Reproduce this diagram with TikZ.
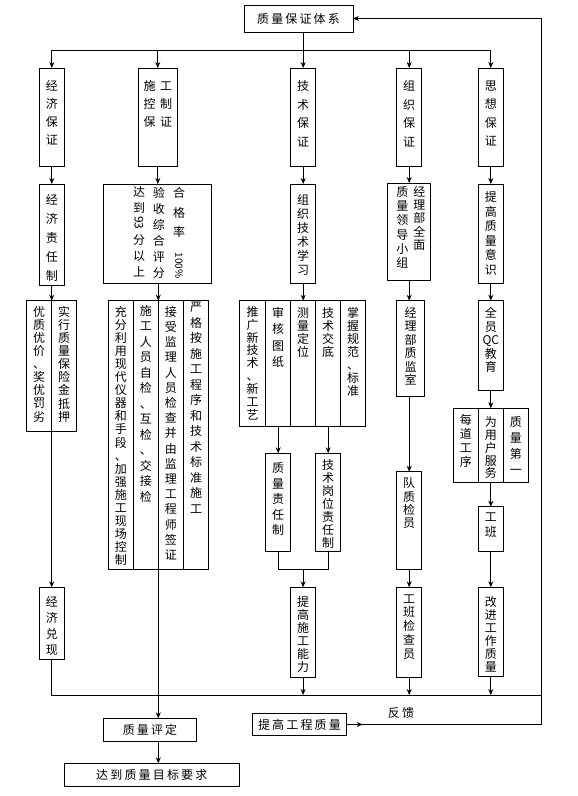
\documentclass[tikz,border=0pt]{standalone}
\usepackage{fontspec}
\setmainfont{Noto Sans CJK SC}
\newfontfamily\hz[LetterSpace=18]{Noto Sans CJK SC}
\usetikzlibrary{arrows.meta,calc}
\newcommand\vt[5]{\parbox[c][#1][t]{#2}{\centering\fontsize{12pt}{#3}\selectfont\lineskiplimit=-50pt\lineskip=0pt\vspace*{#4}#5\par}}
\tikzset{
  bx/.style={draw, line width=0.8pt, inner sep=0pt, outer sep=0pt, anchor=north west},
  hb/.style={draw, line width=0.8pt, inner sep=0pt, outer sep=0pt, anchor=north west, font=\hz\fontsize{12pt}{14pt}\selectfont},
  arr/.style={line width=0.8pt, -{Stealth[length=6pt,width=5pt]}},
  ln/.style={line width=0.8pt}
}
\begin{document}
\begin{tikzpicture}[x=1pt,y=-1pt]
\fill[white] (0,0) rectangle (578,796);
\useasboundingbox (0,0) rectangle (578,796);
% top
\node[hb, minimum width=109pt, minimum height=27pt] (T) at (244,5) {质量保证体系};
% row 1
\node[bx] (e1) at (39.3,68) {\vt{98pt}{25pt}{18pt}{12.5pt}{经\\济\\保\\证}};
\node[bx] (s1) at (138.3,68) {\vt{98pt}{39pt}{17.8pt}{12.5pt}{施\hspace{4.5pt}工\\控\hspace{4.5pt}制\\保\hspace{4.5pt}证}};
\node[bx] (t1) at (290.7,68) {\vt{98pt}{25pt}{18.5pt}{12.5pt}{技\\术\\保\\证}};
\node[bx] (o1) at (396.7,68) {\vt{98pt}{25pt}{18.5pt}{12.5pt}{组\\织\\保\\证}};
\node[bx] (i1) at (478.3,68) {\vt{98pt}{25pt}{18.5pt}{12.5pt}{思\\想\\保\\证}};
% row 2
\node[bx] (e2) at (39.3,184) {\vt{101pt}{25pt}{19pt}{10.5pt}{经\\济\\责\\任\\制}};
\node[bx] (s2) at (103.3,184) {\hbox to 108pt{\hspace*{25.7pt}%
  \vt{99pt}{20pt}{16pt}{2.2pt}{达\\到\\\raisebox{12pt}{\rotatebox{-90}{93}}\\分\\以\\上}%
  \vt{99pt}{20pt}{16pt}{3.8pt}{验\\收\\综\\合\\评\\分}%
  \vt{99pt}{20pt}{19.2pt}{3.8pt}{合\\格\\率\\\raisebox{3pt}{\rotatebox{-90}{\fontsize{10pt}{10pt}\selectfont 100\%}}}\hfil}};
\node[bx] (t2) at (290.7,184) {\vt{99pt}{25pt}{14pt}{10.5pt}{组\\织\\技\\术\\学\\习}};
\node[bx] (o2) at (387.3,183) {\hbox to 43pt{\hspace*{8pt}%
  \vt{97pt}{14pt}{14.3pt}{3.2pt}{质\\量\\领\\导\\小\\组}\hspace*{3pt}%
  \vt{97pt}{14pt}{13.3pt}{3.2pt}{经\\理\\部\\全\\面}\hfil}};
\node[bx] (i2) at (478.3,184) {\vt{99pt}{25pt}{14.6pt}{7.5pt}{提\\高\\质\\量\\意\\识}};
% row 3
\node[bx] (e3a) at (26.7,300.7) {\vt{131pt}{25pt}{13.1pt}{5.5pt}{优\\质\\优\\价\\、\\奖\\优\\罚\\劣}};
\node[bx] (e3b) at (51.7,300.7) {\vt{131pt}{25pt}{13.1pt}{5.5pt}{实\\行\\质\\量\\保\\险\\金\\抵\\押}};
\node[bx] (s3a) at (108.3,300.7) {\vt{268.3pt}{25pt}{13.07pt}{5.5pt}{充\\分\\利\\用\\现\\代\\仪\\器\\和\\手\\段\\、\\加\\强\\施\\工\\现\\场\\控\\制}};
\node[bx] (s3b) at (133.3,300.7) {\vt{268.3pt}{25pt}{15.5pt}{4.5pt}{施\\工\\人\\员\\自\\检\\、\\互\\检\\、\\交\\接\\检}};
\node[bx] (s3c) at (158.3,300.7) {\vt{268.3pt}{25pt}{15.2pt}{5.5pt}{接\\受\\监\\理\\人\\员\\检\\查\\并\\由\\监\\理\\工\\程\\师\\签\\证}};
\node[bx] (s3d) at (183.3,300.7) {\vt{268.3pt}{25.4pt}{15.5pt}{1.8pt}{严\\格\\按\\施\\工\\程\\序\\和\\技\\术\\标\\准\\施\\工}};
\node[bx] (t3a) at (239.3,300.7) {\vt{125.3pt}{26.4pt}{12.9pt}{5.5pt}{推\\广\\新\\技\\术\\、\\新\\工\\艺}};
\node[bx] (t3b) at (265.7,300.7) {\vt{125.3pt}{25pt}{16.3pt}{6.8pt}{审\\核\\图\\纸}};
\node[bx] (t3c) at (290.7,300.7) {\vt{125.3pt}{25pt}{13pt}{6.8pt}{测\\量\\定\\位}};
\node[bx] (t3d) at (315.7,300.7) {\vt{125.3pt}{25pt}{13pt}{6.8pt}{技\\术\\交\\底}};
\node[bx] (t3e) at (340.7,300.7) {\vt{125.3pt}{25pt}{13pt}{6.8pt}{掌\\握\\规\\范\\、\\标\\准}};
\node[bx] (o3) at (396.7,300.7) {\vt{96pt}{27.6pt}{13.4pt}{6.8pt}{经\\理\\部\\质\\监\\室}};
\node[bx] (i3) at (478.3,300.7) {\vt{89.3pt}{25pt}{13.5pt}{7pt}{全\\员\\QC\\教\\育}};
% row 4
\node[bx] (i4a) at (453.3,408.3) {\vt{73.7pt}{25pt}{13.9pt}{6.2pt}{每\\道\\工\\序}};
\node[bx] (i4b) at (478.3,408.3) {\vt{73.7pt}{25pt}{12.9pt}{8pt}{为\\用\\户\\服\\务}};
\node[bx] (i4c) at (503.3,408.3) {\vt{73.7pt}{25pt}{16pt}{8pt}{质\\量\\第\\一}};
\node[bx] (t4a) at (265.7,453.3) {\vt{98pt}{25pt}{15.5pt}{9.2pt}{质\\量\\责\\任\\制}};
\node[bx] (t4b) at (315.7,453.3) {\vt{98pt}{25pt}{13pt}{6.2pt}{技\\术\\岗\\位\\责\\任\\制}};
\node[bx] (o4) at (396.7,471.7) {\vt{97.6pt}{25pt}{13.3pt}{6pt}{队\\质\\检\\员}};
\node[bx] (i5) at (478.3,506.7) {\vt{45pt}{25pt}{15pt}{6pt}{工\\班}};
% row 5
\node[bx] (e5) at (39.3,587.3) {\vt{72pt}{25pt}{16pt}{8.9pt}{经\\济\\兑\\现}};
\node[bx] (t5) at (290.5,587.3) {\vt{90pt}{25.2pt}{13pt}{8.9pt}{提\\高\\施\\工\\能\\力}};
\node[bx] (o5) at (396.7,587.3) {\vt{90pt}{25pt}{13.75pt}{7.2pt}{工\\班\\检\\查\\员}};
\node[bx] (i6) at (478.3,587.3) {\vt{89.4pt}{25pt}{13pt}{8.9pt}{改\\进\\工\\作\\质\\量}};
% bottom
\node[hb, minimum width=93.4pt, minimum height=23.4pt] (pd) at (103.3,718.3) {质量评定};
\node[hb, minimum width=175pt, minimum height=23.4pt] (tg) at (64.3,763.3) {达到质量目标要求};
\node[hb, minimum width=94.4pt, minimum height=22.4pt] (fb) at (252.3,713.3) {提高工程质量};
\node[font=\hz\fontsize{12pt}{14pt}\selectfont, inner sep=0pt] (fbl) at (401,713) {反馈};
% connectors
\coordinate (bus) at (0,50);
\coordinate (rc) at (541.7,695);
\coordinate (tj) at (0,569.3);
\draw[ln] (e1.north |- bus) -- (i1.north |- bus);
\foreach \n in {e1,s1,o1,i1} \draw[arr] (\n.north |- bus) -- (\n.north);
\draw[arr] (t1.north |- T.south) -- (t1.north);
% column e
\draw[arr] (e1.south) -- (e2.north);
\draw[arr] (e3a.north east |- e2.south) -- (e3a.north east);
\draw[arr] (e3a.south east) -- (e3a.south east |- e5.north);
\draw[ln] (e5.south) |- (rc);
% column s
\draw[arr] (s1.south) -- (s1.south |- s2.north);
\draw[arr] (s3b.north east |- s2.south) -- (s3b.north east);
\draw[arr] (s3b.south east) -- (s3b.south east |- pd.north);
\draw[arr] (s3b.south east |- pd.south) -- (s3b.south east |- tg.north);
% column t
\draw[arr] (t1.south) -- (t2.north);
\draw[arr] (t2.south) -- (t2.south |- t3c.north);
\draw[arr] (t4a.north |- t3a.south) -- (t4a.north);
\draw[arr] (t4b.north |- t3a.south) -- (t4b.north);
\draw[ln] (t4a.south) |- (t4b.south |- tj) -- (t4b.south);
\draw[arr] (t5.north |- tj) -- (t5.north);
\draw[arr] (t5.south) -- (t5.south |- rc);
% column o
\draw[arr] (o1.south) -- (o1.south |- o2.north);
\draw[arr] (o1.south |- o2.south) -- (o1.south |- o3.north);
\draw[arr] (o1.south |- o3.south) -- (o1.south |- o4.north);
\draw[arr] (o4.south) -- (o4.south |- o5.north);
\draw[arr] (o5.south) -- (o5.south |- rc);
% column i
\draw[arr] (i1.south) -- (i2.north);
\draw[arr] (i2.south) -- (i3.north);
\draw[arr] (i3.south) -- (i4b.north);
\draw[arr] (i4b.south) -- (i5.north);
\draw[arr] (i5.south) -- (i6.north);
\draw[arr] (i6.south) -- (i6.south |- rc);
% feedback
\draw[arr] (fb.east) -- (fb.east -| rc) -- (rc |- T.east) -- (T.east);
\draw[arr] (fb.east) -- ++(16,0);
\end{tikzpicture}
\end{document}
